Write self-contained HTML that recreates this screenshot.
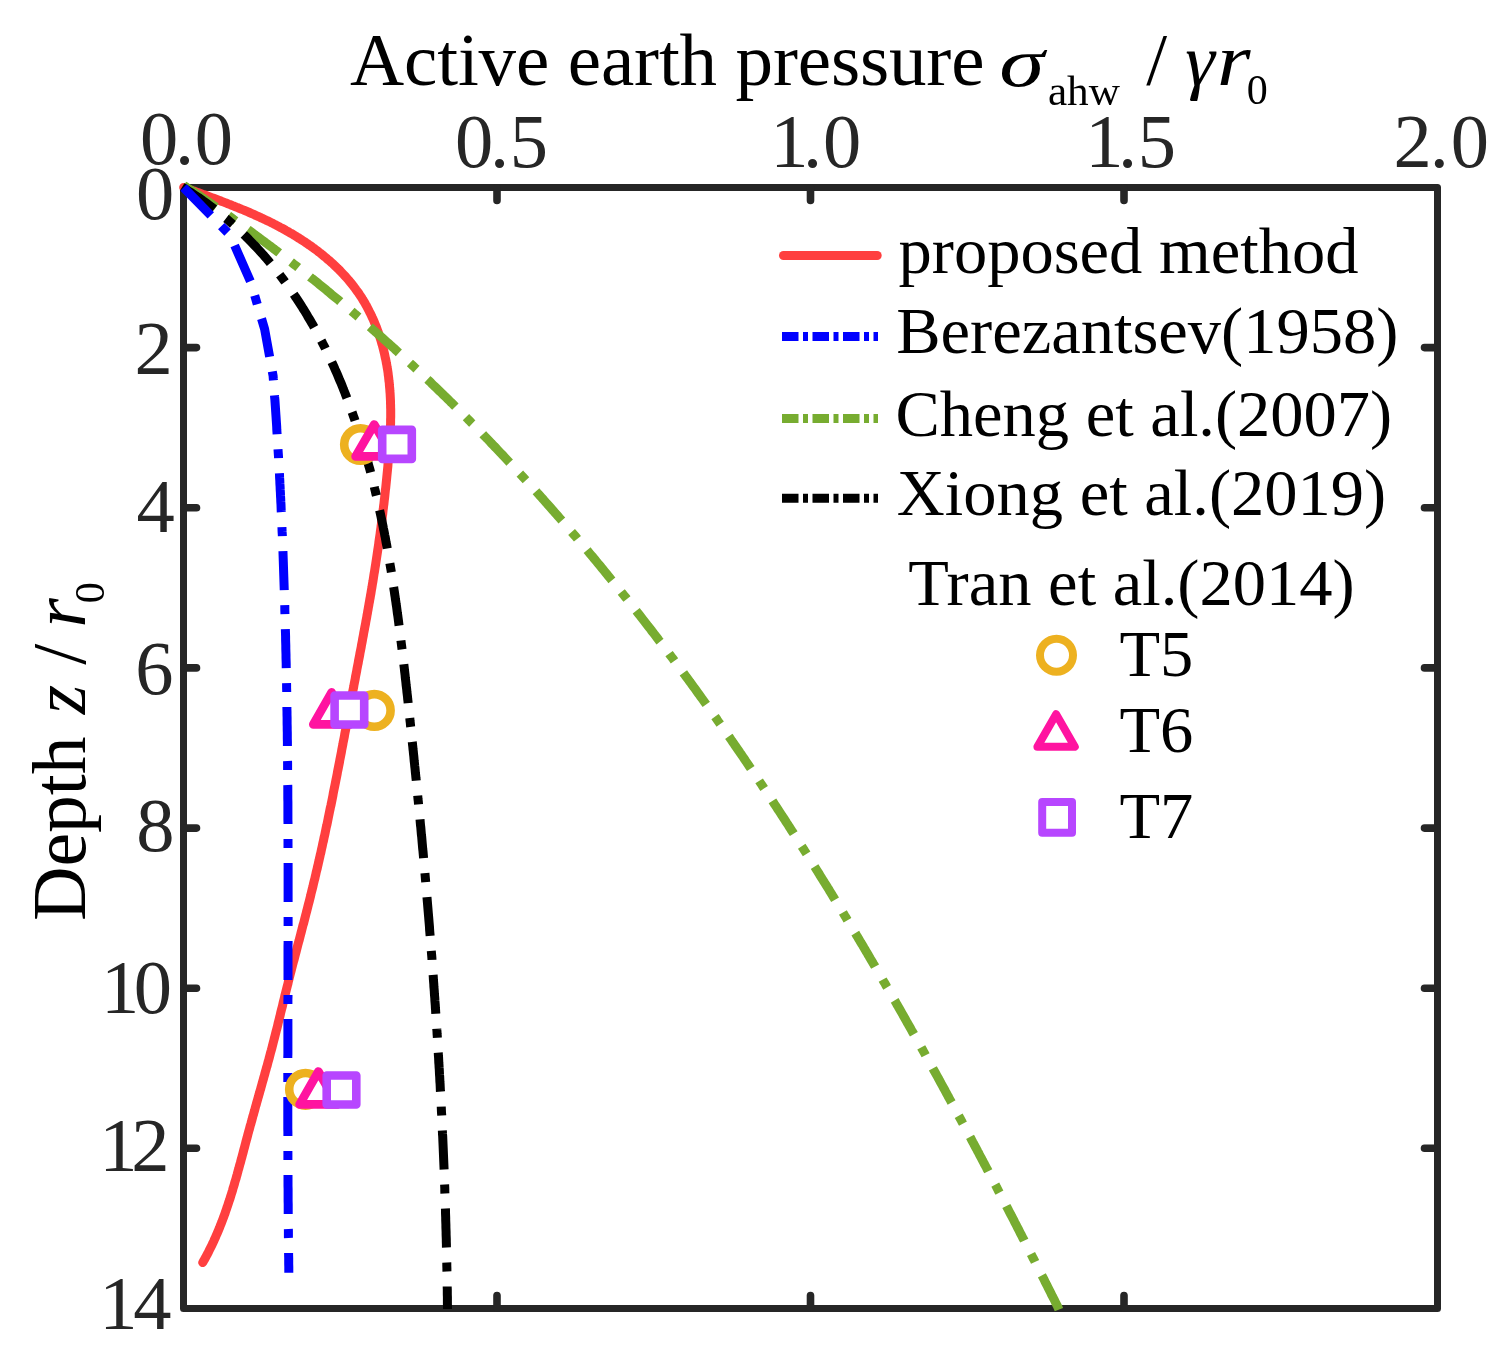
<!DOCTYPE html>
<html><head><meta charset="utf-8"><title>Active earth pressure vs depth</title>
<style>html,body{margin:0;padding:0;background:#fff;width:1504px;height:1364px;overflow:hidden}svg{display:block}</style>
</head><body>
<svg width="1504" height="1364" viewBox="0 0 1504 1364">
<rect width="1504" height="1364" fill="#fff"/>
<g font-family="'Liberation Serif', 'Times New Roman', serif" fill="#000">
<text x="350" y="84.8" font-size="75" textLength="634.5" lengthAdjust="spacing">Active earth pressure</text>
<text transform="translate(999.2,85.6) scale(1.22,0.94)" font-size="75" font-style="italic">σ</text>
<text x="1047.9" y="105" font-size="43.2">ahw</text>
<text x="1146.2" y="84.8" font-size="75">/</text>
<text x="1185.2" y="84.8" font-size="75" font-style="italic">γ</text>
<text transform="translate(1217,84.8) scale(1.15,1)" font-size="75" font-style="italic">r</text>
<text x="1246.7" y="104.4" font-size="42">0</text>
<g transform="translate(85,921.1) rotate(-90)" font-size="75.5">
<text x="0" y="0">Depth</text>
<text x="206.9" y="0" font-style="italic">z</text>
<text x="256.3" y="0">/</text>
<text x="293.6" y="0" font-style="italic">r</text>
<text x="317.5" y="18.7" font-size="43">0</text>
</g>
</g>
<g font-family="'Liberation Serif', 'Times New Roman', serif" font-size="76.5" fill="#262626">
<text x="140.1 175.0 194.8" y="164.3">0.0</text>
<text x="454.9 489.9 509.8" y="167.0">0.5</text>
<text x="770.2 802.9 822.9" y="167.0">1.0</text>
<text x="1085.2 1118.1 1137.8" y="167.0">1.5</text>
<text x="1393.4 1429.8 1450.7" y="167.2">2.0</text>
<text x="135.9" y="219.2">0</text>
<text x="134.6" y="374.0">2</text>
<text x="136.5" y="531.9">4</text>
<text x="135.2" y="693.6">6</text>
<text x="136.2" y="850.5">8</text>
<text x="101.1 133.8" y="1013.4">10</text>
<text x="99.3 131.3" y="1170.7">12</text>
<text x="99.3 133.2" y="1329.0">14</text>
</g>
<rect x="183.5" y="187.5" width="1254" height="1121" fill="none" stroke="#262626" stroke-width="7" stroke-linejoin="round"/>
<path d="M184,347.6h12.5 M1437,347.6h-12.5 M184,507.8h12.5 M1437,507.8h-12.5 M184,667.9h12.5 M1437,667.9h-12.5 M184,828.1h12.5 M1437,828.1h-12.5 M184,988.2h12.5 M1437,988.2h-12.5 M184,1148.3h12.5 M1437,1148.3h-12.5 M497.0,188v12.5 M497.0,1308v-12.5 M810.5,188v12.5 M810.5,1308v-12.5 M1124.0,188v12.5 M1124.0,1308v-12.5" stroke="#262626" stroke-width="7.6" stroke-linecap="round" fill="none"/>
<g fill="none" stroke-width="9">
<polyline points="183.7,187.4 185.5,188.1 187.4,188.7 189.3,189.4 191.1,190.1 193.0,190.8 194.9,191.4 196.8,192.1 198.6,192.8 200.5,193.5 202.4,194.2 204.3,194.8 206.2,195.5 208.1,196.2 209.9,196.9 211.8,197.6 213.7,198.3 215.6,199.0 217.5,199.7 219.4,200.4 221.2,201.2 223.1,201.9 225.0,202.6 226.9,203.3 228.8,204.1 230.7,204.8 232.5,205.6 234.4,206.3 236.3,207.1 238.2,207.8 240.0,208.6 241.9,209.4 243.8,210.1 245.6,210.9 247.5,211.7 249.4,212.5 251.2,213.3 253.1,214.1 254.9,215.0 256.8,215.8 258.6,216.6 260.4,217.5 262.3,218.3 264.1,219.2 265.9,220.1 267.7,220.9 269.6,221.8 271.4,222.7 273.2,223.6 275.0,224.6 276.8,225.5 278.6,226.4 280.3,227.4 282.1,228.3 283.9,229.3 285.7,230.3 287.4,231.3 289.2,232.3 290.9,233.3 292.7,234.3 294.4,235.4 296.1,236.4 297.8,237.5 299.5,238.5 301.2,239.6 302.9,240.7 304.6,241.8 306.3,243.0 308.0,244.1 309.6,245.3 311.3,246.4 312.9,247.6 314.6,248.8 316.2,250.0 317.8,251.2 319.4,252.5 321.0,253.7 322.6,255.0 324.1,256.3 325.7,257.5 327.2,258.9 328.8,260.2 330.3,261.5 331.8,262.9 333.3,264.2 334.7,265.6 336.2,267.0 337.6,268.4 339.1,269.8 340.5,271.2 341.9,272.7 343.3,274.2 344.6,275.6 346.0,277.1 347.3,278.6 348.6,280.1 349.9,281.7 351.2,283.2 352.4,284.8 353.6,286.4 354.9,288.0 356.0,289.6 357.2,291.2 358.4,292.8 359.5,294.5 360.6,296.1 361.7,297.8 362.7,299.5 363.8,301.2 364.8,302.9 365.8,304.7 366.8,306.4 367.7,308.2 368.6,310.0 369.5,311.8 370.4,313.5 371.3,315.4 372.1,317.2 373.0,319.0 373.8,320.8 374.5,322.7 375.3,324.5 376.1,326.4 376.8,328.3 377.5,330.2 378.2,332.1 378.8,334.0 379.5,335.9 380.1,337.8 380.7,339.7 381.3,341.7 381.8,343.6 382.4,345.5 382.9,347.5 383.4,349.4 383.9,351.4 384.4,353.4 384.8,355.3 385.2,357.3 385.7,359.3 386.1,361.3 386.4,363.2 386.8,365.2 387.1,367.2 387.5,369.2 387.8,371.2 388.1,373.2 388.3,375.2 388.6,377.2 388.8,379.2 389.0,381.2 389.3,383.2 389.4,385.2 389.6,387.2 389.8,389.2 389.9,391.2 390.1,393.2 390.2,395.2 390.3,397.2 390.4,399.2 390.5,401.2 390.5,403.3 390.6,405.3 390.6,407.3 390.7,409.3 390.7,411.3 390.7,413.3 390.7,415.4 390.7,417.4 390.6,419.4 390.6,421.4 390.6,423.4 390.5,425.5 390.4,427.5 390.4,429.5 390.3,431.5 390.2,433.5 390.1,435.6 390.0,437.6 389.9,439.6 389.8,441.6 389.6,443.7 389.5,445.7 389.4,447.7 389.2,449.7 389.1,451.7 388.9,453.8 388.7,455.8 388.6,457.8 388.4,459.8 388.2,461.8 388.0,463.9 387.9,465.9 387.7,467.9 387.5,469.9 387.3,471.9 387.1,473.9 386.9,475.9 386.7,478.0 386.5,480.0 386.3,482.0 386.1,484.0 385.9,486.0 385.7,488.0 385.4,490.0 385.2,492.0 385.0,494.0 384.8,496.0 384.6,498.0 384.3,500.0 384.1,502.0 383.9,504.0 383.6,506.0 383.4,508.0 383.1,510.0 382.9,512.0 382.7,514.0 382.4,516.0 382.2,518.0 381.9,520.0 381.6,522.0 381.4,524.0 381.1,526.0 380.9,528.0 380.6,530.0 380.3,531.9 380.1,533.9 379.8,535.9 379.5,537.9 379.2,539.9 378.9,541.9 378.7,543.9 378.4,545.9 378.1,547.9 377.8,549.8 377.5,551.8 377.2,553.8 376.9,555.8 376.6,557.8 376.3,559.8 376.0,561.8 375.7,563.8 375.4,565.7 375.1,567.7 374.8,569.7 374.5,571.7 374.1,573.7 373.8,575.7 373.5,577.6 373.2,579.6 372.9,581.6 372.5,583.6 372.2,585.6 371.9,587.6 371.5,589.6 371.2,591.5 370.9,593.5 370.5,595.5 370.2,597.5 369.8,599.5 369.5,601.5 369.1,603.4 368.8,605.4 368.4,607.4 368.1,609.4 367.7,611.4 367.4,613.4 367.0,615.3 366.7,617.3 366.3,619.3 365.9,621.3 365.6,623.3 365.2,625.3 364.8,627.3 364.5,629.2 364.1,631.2 363.7,633.2 363.4,635.2 363.0,637.2 362.6,639.2 362.3,641.1 361.9,643.1 361.5,645.1 361.2,647.1 360.8,649.1 360.4,651.1 360.0,653.0 359.7,655.0 359.3,657.0 358.9,659.0 358.5,661.0 358.2,663.0 357.8,664.9 357.4,666.9 357.0,668.9 356.7,670.9 356.3,672.9 355.9,674.9 355.5,676.8 355.2,678.8 354.8,680.8 354.4,682.8 354.0,684.8 353.7,686.8 353.3,688.7 352.9,690.7 352.5,692.7 352.2,694.7 351.8,696.7 351.4,698.6 351.1,700.6 350.7,702.6 350.3,704.6 349.9,706.6 349.6,708.6 349.2,710.5 348.8,712.5 348.5,714.5 348.1,716.5 347.7,718.5 347.3,720.5 347.0,722.4 346.6,724.4 346.2,726.4 345.9,728.4 345.5,730.4 345.1,732.3 344.7,734.3 344.4,736.3 344.0,738.3 343.6,740.3 343.2,742.2 342.9,744.2 342.5,746.2 342.1,748.2 341.7,750.2 341.4,752.1 341.0,754.1 340.6,756.1 340.2,758.1 339.8,760.1 339.5,762.0 339.1,764.0 338.7,766.0 338.3,768.0 337.9,770.0 337.5,771.9 337.2,773.9 336.8,775.9 336.4,777.9 336.0,779.8 335.6,781.8 335.2,783.8 334.8,785.8 334.4,787.7 334.0,789.7 333.6,791.7 333.2,793.7 332.9,795.6 332.5,797.6 332.1,799.6 331.7,801.6 331.3,803.5 330.9,805.5 330.4,807.5 330.0,809.5 329.6,811.4 329.2,813.4 328.8,815.4 328.4,817.3 328.0,819.3 327.6,821.3 327.2,823.3 326.8,825.2 326.3,827.2 325.9,829.2 325.5,831.1 325.1,833.1 324.7,835.1 324.2,837.0 323.8,839.0 323.4,841.0 322.9,842.9 322.5,844.9 322.1,846.9 321.6,848.8 321.2,850.8 320.8,852.8 320.3,854.7 319.9,856.7 319.4,858.7 319.0,860.6 318.5,862.6 318.1,864.6 317.6,866.5 317.2,868.5 316.7,870.4 316.2,872.4 315.8,874.4 315.3,876.3 314.9,878.3 314.4,880.2 313.9,882.2 313.4,884.2 313.0,886.1 312.5,888.1 312.0,890.0 311.5,892.0 311.0,894.0 310.6,895.9 310.1,897.9 309.6,899.8 309.1,901.8 308.6,903.7 308.1,905.7 307.6,907.6 307.1,909.6 306.6,911.5 306.1,913.5 305.6,915.4 305.1,917.4 304.6,919.4 304.1,921.3 303.6,923.3 303.0,925.2 302.5,927.2 302.0,929.1 301.5,931.1 301.0,933.0 300.5,935.0 300.0,936.9 299.5,938.9 299.0,940.8 298.4,942.8 297.9,944.7 297.4,946.7 296.9,948.6 296.4,950.6 295.9,952.5 295.4,954.5 294.9,956.4 294.4,958.4 293.9,960.3 293.3,962.3 292.8,964.2 292.3,966.2 291.8,968.1 291.3,970.1 290.8,972.0 290.3,974.0 289.8,976.0 289.3,977.9 288.8,979.9 288.3,981.8 287.9,983.8 287.4,985.7 286.9,987.7 286.4,989.6 285.9,991.6 285.4,993.6 284.9,995.5 284.5,997.5 284.0,999.4 283.5,1001.4 283.0,1003.3 282.6,1005.3 282.1,1007.3 281.6,1009.2 281.1,1011.2 280.6,1013.1 280.2,1015.1 279.7,1017.0 279.2,1019.0 278.7,1021.0 278.2,1022.9 277.8,1024.9 277.3,1026.8 276.8,1028.8 276.3,1030.7 275.8,1032.7 275.3,1034.6 274.8,1036.6 274.3,1038.5 273.8,1040.5 273.3,1042.4 272.8,1044.4 272.3,1046.3 271.8,1048.3 271.3,1050.2 270.7,1052.2 270.2,1054.1 269.7,1056.1 269.2,1058.0 268.7,1060.0 268.1,1061.9 267.6,1063.8 267.1,1065.8 266.5,1067.7 266.0,1069.7 265.4,1071.6 264.9,1073.5 264.4,1075.5 263.8,1077.4 263.3,1079.4 262.7,1081.3 262.2,1083.2 261.7,1085.2 261.1,1087.1 260.6,1089.1 260.0,1091.0 259.5,1092.9 258.9,1094.9 258.4,1096.8 257.8,1098.8 257.3,1100.7 256.7,1102.6 256.2,1104.6 255.6,1106.5 255.1,1108.5 254.6,1110.4 254.0,1112.3 253.5,1114.3 252.9,1116.2 252.4,1118.2 251.9,1120.1 251.3,1122.1 250.8,1124.0 250.2,1125.9 249.7,1127.9 249.2,1129.8 248.6,1131.8 248.1,1133.7 247.6,1135.7 247.1,1137.6 246.5,1139.6 246.0,1141.5 245.5,1143.5 245.0,1145.4 244.5,1147.4 243.9,1149.3 243.4,1151.3 242.9,1153.3 242.4,1155.2 241.9,1157.2 241.3,1159.1 240.8,1161.1 240.3,1163.0 239.7,1165.0 239.2,1166.9 238.7,1168.8 238.1,1170.8 237.6,1172.7 237.1,1174.7 236.5,1176.6 236.0,1178.6 235.4,1180.5 234.8,1182.4 234.3,1184.4 233.7,1186.3 233.1,1188.2 232.6,1190.2 232.0,1192.1 231.4,1194.0 230.8,1195.9 230.2,1197.9 229.6,1199.8 228.9,1201.7 228.3,1203.6 227.7,1205.5 227.0,1207.4 226.4,1209.3 225.7,1211.2 225.1,1213.1 224.4,1215.0 223.7,1216.9 223.0,1218.8 222.3,1220.6 221.6,1222.5 220.8,1224.4 220.1,1226.3 219.4,1228.1 218.6,1230.0 217.8,1231.8 217.0,1233.7 216.2,1235.5 215.4,1237.4 214.6,1239.2 213.8,1241.1 212.9,1242.9 212.1,1244.7 211.2,1246.5 210.3,1248.3 209.4,1250.1 208.5,1251.9 207.6,1253.7 206.6,1255.5 205.7,1257.3 204.7,1259.1 203.7,1260.8 202.7,1262.6" stroke="#FF3F3F" stroke-linecap="round" stroke-linejoin="round"/>
<polyline points="183.7,185.4 185.5,186.6 187.2,187.7 189.0,188.9 190.7,190.0 192.4,191.2 194.2,192.3 195.9,193.5 197.7,194.6 199.4,195.8 201.1,197.0 202.8,198.1 204.6,199.3 206.3,200.5 208.0,201.6 209.7,202.8 211.5,204.0 213.2,205.2 214.9,206.3 216.6,207.5 218.3,208.7 220.0,209.9 221.7,211.1 223.4,212.2 225.1,213.4 226.9,214.6 228.6,215.8 230.3,217.0 232.0,218.2 233.6,219.4 235.3,220.6 237.0,221.8 238.7,223.0 240.4,224.2 242.1,225.4 243.8,226.7 245.5,227.9 247.1,229.1 248.8,230.3 250.5,231.5 252.2,232.7 253.9,234.0 255.5,235.2 257.2,236.4 258.9,237.6 260.5,238.9 262.2,240.1 263.9,241.3 265.5,242.6 267.2,243.8 268.8,245.1 270.5,246.3 272.2,247.5 273.8,248.8 275.5,250.0 277.1,251.3 278.8,252.5 280.4,253.8 282.0,255.0 283.7,256.3 285.3,257.6 287.0,258.8 288.6,260.1 290.2,261.3 291.9,262.6 293.5,263.9 295.1,265.2 296.8,266.4 298.4,267.7 300.0,269.0 301.6,270.3 303.3,271.5 304.9,272.8 306.5,274.1 308.1,275.4 309.7,276.7 311.3,278.0 312.9,279.2 314.6,280.5 316.2,281.8 317.8,283.1 319.4,284.4 321.0,285.7 322.6,287.0 324.2,288.3 325.8,289.6 327.4,290.9 329.0,292.2 330.5,293.6 332.1,294.9 333.7,296.2 335.3,297.5 336.9,298.8 338.5,300.1 340.1,301.4 341.6,302.8 343.2,304.1 344.8,305.4 346.4,306.7 347.9,308.1 349.5,309.4 351.1,310.7 352.7,312.1 354.2,313.4 355.8,314.7 357.4,316.1 358.9,317.4 360.5,318.8 362.0,320.1 363.6,321.5 365.1,322.8 366.7,324.2 368.2,325.5 369.8,326.9 371.3,328.2 372.9,329.6 374.4,330.9 376.0,332.3 377.5,333.7 379.1,335.0 380.6,336.4 382.1,337.7 383.7,339.1 385.2,340.5 386.7,341.9 388.3,343.2 389.8,344.6 391.3,346.0 392.9,347.4 394.4,348.7 395.9,350.1 397.4,351.5 398.9,352.9 400.5,354.3 402.0,355.7 403.5,357.1 405.0,358.4 406.5,359.8 408.0,361.2 409.5,362.6 411.0,364.0 412.5,365.4 414.0,366.8 415.5,368.2 417.0,369.6 418.5,371.0 420.0,372.4 421.5,373.9 423.0,375.3 424.5,376.7 426.0,378.1 427.5,379.5 429.0,380.9 430.5,382.3 431.9,383.8 433.4,385.2 434.9,386.6 436.4,388.0 437.9,389.5 439.3,390.9 440.8,392.3 442.3,393.7 443.8,395.2 445.2,396.6 446.7,398.0 448.2,399.5 449.6,400.9 451.1,402.4 452.6,403.8 454.0,405.2 455.5,406.7 456.9,408.1 458.4,409.6 459.8,411.0 461.3,412.5 462.7,413.9 464.2,415.4 465.6,416.8 467.1,418.3 468.5,419.8 470.0,421.2 471.4,422.7 472.9,424.1 474.3,425.6 475.7,427.1 477.2,428.5 478.6,430.0 480.0,431.5 481.5,432.9 482.9,434.4 484.3,435.9 485.8,437.4 487.2,438.8 488.6,440.3 490.0,441.8 491.4,443.3 492.9,444.8 494.3,446.3 495.7,447.7 497.1,449.2 498.5,450.7 499.9,452.2 501.3,453.7 502.8,455.2 504.2,456.7 505.6,458.2 507.0,459.7 508.4,461.2 509.8,462.7 511.2,464.2 512.6,465.7 514.0,467.2 515.4,468.7 516.8,470.2 518.2,471.7 519.5,473.2 520.9,474.7 522.3,476.2 523.7,477.8 525.1,479.3 526.5,480.8 527.9,482.3 529.2,483.8 530.6,485.4 532.0,486.9 533.4,488.4 534.8,489.9 536.1,491.4 537.5,493.0 538.9,494.5 540.2,496.0 541.6,497.6 543.0,499.1 544.3,500.6 545.7,502.2 547.1,503.7 548.4,505.2 549.8,506.8 551.1,508.3 552.5,509.9 553.9,511.4 555.2,513.0 556.6,514.5 557.9,516.0 559.3,517.6 560.6,519.1 562.0,520.7 563.3,522.3 564.6,523.8 566.0,525.4 567.3,526.9 568.7,528.5 570.0,530.0 571.3,531.6 572.7,533.2 574.0,534.7 575.4,536.3 576.7,537.8 578.0,539.4 579.3,541.0 580.7,542.5 582.0,544.1 583.3,545.7 584.6,547.3 586.0,548.8 587.3,550.4 588.6,552.0 589.9,553.6 591.2,555.1 592.6,556.7 593.9,558.3 595.2,559.9 596.5,561.5 597.8,563.1 599.1,564.6 600.4,566.2 601.7,567.8 603.0,569.4 604.3,571.0 605.6,572.6 606.9,574.2 608.2,575.8 609.5,577.4 610.8,579.0 612.1,580.6 613.4,582.2 614.7,583.8 616.0,585.4 617.3,587.0 618.6,588.6 619.9,590.2 621.1,591.8 622.4,593.4 623.7,595.0 625.0,596.6 626.3,598.2 627.6,599.8 628.8,601.4 630.1,603.1 631.4,604.7 632.7,606.3 633.9,607.9 635.2,609.5 636.5,611.1 637.7,612.8 639.0,614.4 640.3,616.0 641.5,617.6 642.8,619.3 644.1,620.9 645.3,622.5 646.6,624.1 647.8,625.8 649.1,627.4 650.4,629.0 651.6,630.7 652.9,632.3 654.1,633.9 655.4,635.6 656.6,637.2 657.9,638.8 659.1,640.5 660.4,642.1 661.6,643.8 662.9,645.4 664.1,647.0 665.3,648.7 666.6,650.3 667.8,652.0 669.1,653.6 670.3,655.3 671.5,656.9 672.8,658.6 674.0,660.2 675.2,661.9 676.5,663.5 677.7,665.2 678.9,666.8 680.1,668.5 681.4,670.2 682.6,671.8 683.8,673.5 685.0,675.1 686.2,676.8 687.5,678.5 688.7,680.1 689.9,681.8 691.1,683.4 692.3,685.1 693.5,686.8 694.8,688.4 696.0,690.1 697.2,691.8 698.4,693.5 699.6,695.1 700.8,696.8 702.0,698.5 703.2,700.2 704.4,701.8 705.6,703.5 706.8,705.2 708.0,706.9 709.2,708.5 710.4,710.2 711.6,711.9 712.8,713.6 714.0,715.3 715.2,716.9 716.4,718.6 717.5,720.3 718.7,722.0 719.9,723.7 721.1,725.4 722.3,727.1 723.5,728.8 724.7,730.5 725.8,732.1 727.0,733.8 728.2,735.5 729.4,737.2 730.6,738.9 731.7,740.6 732.9,742.3 734.1,744.0 735.2,745.7 736.4,747.4 737.6,749.1 738.8,750.8 739.9,752.5 741.1,754.2 742.3,755.9 743.4,757.6 744.6,759.3 745.7,761.0 746.9,762.7 748.1,764.5 749.2,766.2 750.4,767.9 751.5,769.6 752.7,771.3 753.8,773.0 755.0,774.7 756.2,776.4 757.3,778.2 758.5,779.9 759.6,781.6 760.7,783.3 761.9,785.0 763.0,786.7 764.2,788.5 765.3,790.2 766.5,791.9 767.6,793.6 768.7,795.3 769.9,797.1 771.0,798.8 772.2,800.5 773.3,802.2 774.4,804.0 775.6,805.7 776.7,807.4 777.8,809.2 779.0,810.9 780.1,812.6 781.2,814.3 782.3,816.1 783.5,817.8 784.6,819.5 785.7,821.3 786.8,823.0 788.0,824.7 789.1,826.5 790.2,828.2 791.3,830.0 792.4,831.7 793.6,833.4 794.7,835.2 795.8,836.9 796.9,838.6 798.0,840.4 799.1,842.1 800.2,843.9 801.3,845.6 802.5,847.4 803.6,849.1 804.7,850.9 805.8,852.6 806.9,854.3 808.0,856.1 809.1,857.8 810.2,859.6 811.3,861.3 812.4,863.1 813.5,864.8 814.6,866.6 815.7,868.3 816.8,870.1 817.9,871.8 819.0,873.6 820.0,875.4 821.1,877.1 822.2,878.9 823.3,880.6 824.4,882.4 825.5,884.1 826.6,885.9 827.7,887.7 828.8,889.4 829.8,891.2 830.9,892.9 832.0,894.7 833.1,896.5 834.2,898.2 835.2,900.0 836.3,901.7 837.4,903.5 838.5,905.3 839.5,907.0 840.6,908.8 841.7,910.6 842.8,912.3 843.8,914.1 844.9,915.9 846.0,917.6 847.0,919.4 848.1,921.2 849.2,923.0 850.2,924.7 851.3,926.5 852.4,928.3 853.4,930.0 854.5,931.8 855.6,933.6 856.6,935.4 857.7,937.1 858.7,938.9 859.8,940.7 860.8,942.5 861.9,944.2 863.0,946.0 864.0,947.8 865.1,949.6 866.1,951.4 867.2,953.1 868.2,954.9 869.3,956.7 870.3,958.5 871.4,960.3 872.4,962.0 873.4,963.8 874.5,965.6 875.5,967.4 876.6,969.2 877.6,970.9 878.7,972.7 879.7,974.5 880.7,976.3 881.8,978.1 882.8,979.9 883.8,981.7 884.9,983.4 885.9,985.2 886.9,987.0 888.0,988.8 889.0,990.6 890.0,992.4 891.1,994.2 892.1,996.0 893.1,997.8 894.2,999.6 895.2,1001.3 896.2,1003.1 897.2,1004.9 898.3,1006.7 899.3,1008.5 900.3,1010.3 901.3,1012.1 902.4,1013.9 903.4,1015.7 904.4,1017.5 905.4,1019.3 906.4,1021.1 907.4,1022.9 908.5,1024.7 909.5,1026.5 910.5,1028.3 911.5,1030.1 912.5,1031.9 913.5,1033.6 914.5,1035.4 915.5,1037.2 916.6,1039.0 917.6,1040.8 918.6,1042.6 919.6,1044.4 920.6,1046.2 921.6,1048.0 922.6,1049.8 923.6,1051.6 924.6,1053.4 925.6,1055.3 926.6,1057.1 927.6,1058.9 928.6,1060.7 929.6,1062.5 930.6,1064.3 931.6,1066.1 932.6,1067.9 933.6,1069.7 934.6,1071.5 935.6,1073.3 936.6,1075.1 937.6,1076.9 938.6,1078.7 939.5,1080.5 940.5,1082.3 941.5,1084.1 942.5,1085.9 943.5,1087.7 944.5,1089.5 945.5,1091.4 946.5,1093.2 947.5,1095.0 948.4,1096.8 949.4,1098.6 950.4,1100.4 951.4,1102.2 952.4,1104.0 953.3,1105.8 954.3,1107.6 955.3,1109.4 956.3,1111.2 957.3,1113.1 958.2,1114.9 959.2,1116.7 960.2,1118.5 961.2,1120.3 962.1,1122.1 963.1,1123.9 964.1,1125.7 965.1,1127.5 966.0,1129.4 967.0,1131.2 968.0,1133.0 968.9,1134.8 969.9,1136.6 970.9,1138.4 971.8,1140.2 972.8,1142.1 973.8,1143.9 974.7,1145.7 975.7,1147.5 976.7,1149.3 977.6,1151.1 978.6,1152.9 979.5,1154.8 980.5,1156.6 981.5,1158.4 982.4,1160.2 983.4,1162.0 984.3,1163.8 985.3,1165.6 986.3,1167.5 987.2,1169.3 988.2,1171.1 989.1,1172.9 990.1,1174.7 991.0,1176.5 992.0,1178.3 992.9,1180.2 993.9,1182.0 994.8,1183.8 995.8,1185.6 996.7,1187.4 997.7,1189.2 998.6,1191.1 999.6,1192.9 1000.5,1194.7 1001.5,1196.5 1002.4,1198.3 1003.4,1200.1 1004.3,1202.0 1005.2,1203.8 1006.2,1205.6 1007.1,1207.4 1008.1,1209.2 1009.0,1211.1 1009.9,1212.9 1010.9,1214.7 1011.8,1216.5 1012.8,1218.3 1013.7,1220.1 1014.6,1222.0 1015.6,1223.8 1016.5,1225.6 1017.4,1227.4 1018.4,1229.2 1019.3,1231.0 1020.2,1232.9 1021.2,1234.7 1022.1,1236.5 1023.0,1238.3 1024.0,1240.1 1024.9,1242.0 1025.8,1243.8 1026.8,1245.6 1027.7,1247.4 1028.6,1249.2 1029.5,1251.0 1030.5,1252.9 1031.4,1254.7 1032.3,1256.5 1033.2,1258.3 1034.2,1260.1 1035.1,1261.9 1036.0,1263.8 1036.9,1265.6 1037.9,1267.4 1038.8,1269.2 1039.7,1271.0 1040.6,1272.9 1041.5,1274.7 1042.5,1276.5 1043.4,1278.3 1044.3,1280.1 1045.2,1281.9 1046.1,1283.8 1047.1,1285.6 1048.0,1287.4 1048.9,1289.2 1049.8,1291.0 1050.7,1292.8 1051.6,1294.7 1052.5,1296.5 1053.5,1298.3 1054.4,1300.1 1055.3,1301.9 1056.2,1303.7 1057.1,1305.5 1058.0,1307.4 1058.9,1309.6" stroke="#77AC30" stroke-dasharray="39 15 9 15"/>
<polyline points="182.1,187.0 184.3,188.3 186.4,189.7 188.6,191.0 190.7,192.3 192.8,193.7 194.9,195.1 196.9,196.5 199.0,197.8 201.0,199.3 203.0,200.7 205.1,202.1 207.1,203.6 209.0,205.0 211.0,206.5 213.0,208.0 214.9,209.5 216.8,211.0 218.8,212.5 220.7,214.0 222.5,215.5 224.4,217.1 226.3,218.6 228.1,220.2 230.0,221.8 231.8,223.4 233.6,225.0 235.4,226.6 237.1,228.2 238.9,229.9 240.7,231.5 242.4,233.1 244.1,234.8 245.9,236.5 247.6,238.2 249.2,239.9 250.9,241.6 252.6,243.3 254.2,245.0 255.9,246.7 257.5,248.5 259.1,250.2 260.7,252.0 262.3,253.8 263.9,255.5 265.4,257.3 267.0,259.1 268.5,260.9 270.1,262.8 271.6,264.6 273.1,266.4 274.6,268.3 276.0,270.1 277.5,272.0 279.0,273.8 280.4,275.7 281.8,277.6 283.3,279.5 284.7,281.4 286.1,283.3 287.5,285.2 288.8,287.1 290.2,289.1 291.6,291.0 292.9,293.0 294.2,294.9 295.5,296.9 296.8,298.8 298.1,300.8 299.4,302.8 300.7,304.8 302.0,306.8 303.2,308.8 304.5,310.8 305.7,312.8 306.9,314.8 308.1,316.9 309.3,318.9 310.5,320.9 311.7,323.0 312.9,325.0 314.0,327.1 315.2,329.2 316.3,331.3 317.4,333.3 318.6,335.4 319.7,337.5 320.8,339.6 321.9,341.7 322.9,343.8 324.0,345.9 325.1,348.0 326.1,350.2 327.2,352.3 328.2,354.4 329.2,356.6 330.2,358.7 331.2,360.9 332.2,363.0 333.2,365.2 334.2,367.3 335.1,369.5 336.1,371.7 337.1,373.8 338.0,376.0 338.9,378.2 339.8,380.4 340.8,382.6 341.7,384.8 342.6,387.0 343.4,389.2 344.3,391.4 345.2,393.6 346.0,395.8 346.9,398.0 347.7,400.2 348.6,402.5 349.4,404.7 350.2,406.9 351.0,409.2 351.8,411.4 352.6,413.6 353.4,415.9 354.2,418.1 355.0,420.4 355.7,422.6 356.5,424.9 357.2,427.1 358.0,429.4 358.7,431.6 359.4,433.9 360.2,436.1 360.9,438.4 361.6,440.7 362.3,442.9 362.9,445.2 363.6,447.5 364.3,449.8 365.0,452.0 365.6,454.3 366.3,456.6 366.9,458.9 367.6,461.2 368.2,463.5 368.8,465.8 369.5,468.1 370.1,470.3 370.7,472.6 371.3,474.9 371.9,477.2 372.5,479.5 373.0,481.9 373.6,484.2 374.2,486.5 374.7,488.8 375.3,491.1 375.8,493.4 376.4,495.7 376.9,498.0 377.5,500.4 378.0,502.7 378.5,505.0 379.0,507.3 379.5,509.7 380.0,512.0 380.5,514.3 381.0,516.6 381.5,519.0 382.0,521.3 382.5,523.6 383.0,526.0 383.4,528.3 383.9,530.7 384.4,533.0 384.8,535.3 385.3,537.7 385.7,540.0 386.1,542.4 386.6,544.7 387.0,547.1 387.4,549.4 387.9,551.8 388.3,554.1 388.7,556.5 389.1,558.8 389.5,561.2 389.9,563.6 390.3,565.9 390.7,568.3 391.1,570.6 391.5,573.0 391.8,575.4 392.2,577.7 392.6,580.1 393.0,582.5 393.3,584.8 393.7,587.2 394.0,589.6 394.4,591.9 394.7,594.3 395.1,596.7 395.4,599.0 395.8,601.4 396.1,603.8 396.5,606.2 396.8,608.5 397.1,610.9 397.4,613.3 397.8,615.7 398.1,618.0 398.4,620.4 398.7,622.8 399.0,625.2 399.3,627.6 399.6,629.9 399.9,632.3 400.2,634.7 400.5,637.1 400.8,639.5 401.1,641.8 401.4,644.2 401.7,646.6 402.0,649.0 402.3,651.4 402.6,653.8 402.9,656.1 403.2,658.5 403.4,660.9 403.7,663.3 404.0,665.7 404.3,668.1 404.5,670.4 404.8,672.8 405.1,675.2 405.3,677.6 405.6,680.0 405.9,682.4 406.1,684.8 406.4,687.1 406.7,689.5 406.9,691.9 407.2,694.3 407.5,696.7 407.7,699.1 408.0,701.4 408.2,703.8 408.5,706.2 408.7,708.6 409.0,711.0 409.3,713.4 409.5,715.7 409.8,718.1 410.0,720.5 410.3,722.9 410.5,725.3 410.8,727.7 411.0,730.0 411.3,732.4 411.5,734.8 411.8,737.2 412.0,739.6 412.3,741.9 412.5,744.3 412.8,746.7 413.0,749.1 413.3,751.5 413.5,753.8 413.8,756.2 414.0,758.6 414.2,761.0 414.5,763.4 414.7,765.7 415.0,768.1 415.2,770.5 415.4,772.9 415.7,775.3 415.9,777.6 416.2,780.0 416.4,782.4 416.6,784.8 416.9,787.1 417.1,789.5 417.3,791.9 417.6,794.3 417.8,796.6 418.0,799.0 418.3,801.4 418.5,803.8 418.7,806.2 419.0,808.5 419.2,810.9 419.4,813.3 419.6,815.7 419.9,818.0 420.1,820.4 420.3,822.8 420.5,825.2 420.8,827.5 421.0,829.9 421.2,832.3 421.4,834.7 421.7,837.0 421.9,839.4 422.1,841.8 422.3,844.2 422.5,846.5 422.7,848.9 423.0,851.3 423.2,853.6 423.4,856.0 423.6,858.4 423.8,860.8 424.0,863.1 424.2,865.5 424.4,867.9 424.7,870.3 424.9,872.6 425.1,875.0 425.3,877.4 425.5,879.8 425.7,882.1 425.9,884.5 426.1,886.9 426.3,889.3 426.5,891.6 426.7,894.0 426.9,896.4 427.1,898.7 427.3,901.1 427.5,903.5 427.7,905.9 427.9,908.2 428.1,910.6 428.3,913.0 428.5,915.4 428.7,917.7 428.9,920.1 429.1,922.5 429.3,924.8 429.5,927.2 429.6,929.6 429.8,932.0 430.0,934.3 430.2,936.7 430.4,939.1 430.6,941.5 430.8,943.8 430.9,946.2 431.1,948.6 431.3,951.0 431.5,953.3 431.7,955.7 431.9,958.1 432.0,960.4 432.2,962.8 432.4,965.2 432.6,967.6 432.7,969.9 432.9,972.3 433.1,974.7 433.3,977.1 433.4,979.4 433.6,981.8 433.8,984.2 433.9,986.6 434.1,988.9 434.3,991.3 434.4,993.7 434.6,996.1 434.8,998.4 434.9,1000.8 435.1,1003.2 435.3,1005.6 435.4,1007.9 435.6,1010.3 435.7,1012.7 435.9,1015.1 436.0,1017.4 436.2,1019.8 436.4,1022.2 436.5,1024.6 436.7,1026.9 436.8,1029.3 437.0,1031.7 437.1,1034.1 437.3,1036.4 437.4,1038.8 437.6,1041.2 437.7,1043.6 437.9,1045.9 438.0,1048.3 438.1,1050.7 438.3,1053.1 438.4,1055.5 438.6,1057.8 438.7,1060.2 438.8,1062.6 439.0,1065.0 439.1,1067.3 439.3,1069.7 439.4,1072.1 439.5,1074.5 439.7,1076.9 439.8,1079.2 439.9,1081.6 440.1,1084.0 440.2,1086.4 440.3,1088.8 440.4,1091.1 440.6,1093.5 440.7,1095.9 440.8,1098.3 440.9,1100.7 441.1,1103.0 441.2,1105.4 441.3,1107.8 441.4,1110.2 441.5,1112.6 441.7,1114.9 441.8,1117.3 441.9,1119.7 442.0,1122.1 442.1,1124.5 442.2,1126.9 442.3,1129.2 442.4,1131.6 442.5,1134.0 442.7,1136.4 442.8,1138.8 442.9,1141.2 443.0,1143.6 443.1,1145.9 443.2,1148.3 443.3,1150.7 443.4,1153.1 443.5,1155.5 443.6,1157.9 443.7,1160.3 443.8,1162.6 443.9,1165.0 444.0,1167.4 444.1,1169.8 444.1,1172.2 444.2,1174.6 444.3,1177.0 444.4,1179.4 444.5,1181.7 444.6,1184.1 444.7,1186.5 444.8,1188.9 444.8,1191.3 444.9,1193.7 445.0,1196.1 445.1,1198.5 445.2,1200.9 445.2,1203.3 445.3,1205.7 445.4,1208.0 445.5,1210.4 445.5,1212.8 445.6,1215.2 445.7,1217.6 445.7,1220.0 445.8,1222.4 445.9,1224.8 445.9,1227.2 446.0,1229.6 446.1,1232.0 446.1,1234.4 446.2,1236.8 446.3,1239.2 446.3,1241.6 446.4,1244.0 446.4,1246.4 446.5,1248.8 446.5,1251.2 446.6,1253.6 446.6,1256.0 446.7,1258.4 446.7,1260.8 446.8,1263.2 446.8,1265.6 446.9,1268.0 446.9,1270.4 447.0,1272.8 447.0,1275.2 447.1,1277.6 447.1,1280.0 447.1,1282.4 447.2,1284.8 447.2,1287.2 447.3,1289.6 447.3,1292.0 447.3,1294.4 447.4,1296.8 447.4,1299.2 447.4,1301.6 447.4,1304.0 447.5,1306.5 447.5,1308.9" stroke="#000000" stroke-dasharray="39 15 9 15"/>
<polyline points="183.5,187.5 230.0,235.0 250.7,282.0 264.6,329.0 273.1,375.9 273.3,378.9 273.6,381.9 273.8,384.9 274.0,387.9 274.2,390.9 274.4,393.9 274.6,396.9 274.9,399.9 275.1,402.9 275.3,405.8 275.5,408.8 275.7,411.8 275.9,414.8 276.1,417.8 276.3,420.8 276.5,423.8 276.7,426.8 276.8,429.8 277.0,432.8 277.2,435.8 277.4,438.8 277.6,441.8 277.8,444.8 277.9,447.8 278.1,450.8 278.3,453.8 278.5,456.8 278.6,459.7 278.8,462.7 279.0,465.7 279.1,468.7 279.3,471.7 279.5,474.7 279.6,477.7 279.8,480.7 279.9,483.7 280.1,486.7 280.2,489.7 280.4,492.7 280.5,495.7 280.7,498.7 280.8,501.7 281.0,504.7 281.1,507.7 281.2,510.7 281.4,513.7 281.5,516.7 281.6,519.7 281.8,522.7 281.9,525.7 282.0,528.7 282.1,531.7 282.3,534.7 282.4,537.7 282.5,540.7 282.6,543.6 282.7,546.6 282.9,549.6 283.0,552.6 283.1,555.6 283.2,558.6 283.3,561.6 283.4,564.6 283.5,567.6 283.6,570.6 283.7,573.6 283.8,576.6 283.9,579.6 284.0,582.6 284.1,585.6 284.2,588.6 284.3,591.6 284.4,594.6 284.5,597.6 284.6,600.6 284.7,603.6 284.8,606.6 284.8,609.6 284.9,612.6 285.0,615.6 285.1,618.6 285.2,621.6 285.3,624.6 285.3,627.6 285.4,630.6 285.5,633.6 285.6,636.6 285.6,639.6 285.7,642.6 285.8,645.6 285.8,648.6 285.9,651.6 286.0,654.6 286.0,657.6 286.1,660.6 286.2,663.6 286.2,666.6 286.3,669.6 286.3,672.6 286.4,675.6 286.4,678.6 286.5,681.6 286.6,684.6 286.6,687.6 286.7,690.6 286.7,693.6 286.8,696.6 286.8,699.6 286.8,702.6 286.9,705.6 286.9,708.6 287.0,711.6 287.0,714.6 287.1,717.6 287.1,720.6 287.1,723.6 287.2,726.6 287.2,729.6 287.3,732.6 287.3,735.6 287.3,738.6 287.4,741.6 287.4,744.6 287.4,747.6 287.5,750.6 287.5,753.6 287.5,756.6 287.5,759.6 287.6,762.6 287.6,765.6 287.6,768.6 287.6,771.6 287.7,774.6 287.7,777.6 287.7,780.6 287.7,783.6 287.8,786.6 287.8,789.6 287.8,792.6 287.8,795.6 287.8,798.6 287.9,801.6 287.9,804.6 287.9,807.6 287.9,810.6 287.9,813.6 287.9,816.6 287.9,819.6 288.0,822.6 288.0,825.6 288.0,828.6 288.0,831.6 288.0,834.6 288.0,837.6 288.0,840.6 288.0,843.6 288.0,846.6 288.0,849.6 288.0,852.6 288.1,855.6 288.1,858.6 288.1,861.6 288.1,864.6 288.1,867.6 288.1,870.6 288.1,873.7 288.1,876.7 288.1,879.7 288.1,882.7 288.1,885.7 288.1,888.7 288.1,891.7 288.1,894.7 288.1,897.7 288.1,900.7 288.1,903.7 288.1,906.7 288.1,909.7 288.1,912.7 288.1,915.7 288.1,918.7 288.1,921.7 288.1,924.7 288.1,927.7 288.1,930.7 288.1,933.7 288.1,936.7 288.1,939.7 288.1,942.7 288.0,945.7 288.0,948.7 288.0,951.7 288.0,954.7 288.0,957.7 288.0,960.7 288.0,963.7 288.0,966.7 288.0,969.7 288.0,972.7 288.0,975.7 288.0,978.7 288.0,981.7 288.0,984.7 288.0,987.7 288.0,990.7 288.0,993.7 288.0,996.7 287.9,999.7 287.9,1002.7 287.9,1005.7 287.9,1008.7 287.9,1011.7 287.9,1014.7 287.9,1017.7 287.9,1020.7 287.9,1023.7 287.9,1026.7 287.9,1029.7 287.9,1032.7 287.9,1035.7 287.9,1038.7 287.9,1041.7 287.9,1044.7 287.9,1047.7 287.9,1050.8 287.9,1053.8 287.8,1056.8 287.8,1059.8 287.8,1062.8 287.8,1065.8 287.8,1068.8 287.8,1071.8 287.8,1074.8 287.8,1077.8 287.8,1080.8 287.8,1083.8 287.8,1086.8 287.8,1089.8 287.8,1092.8 287.8,1095.8 287.8,1098.8 287.8,1101.8 287.8,1104.8 287.8,1107.8 287.8,1110.8 287.8,1113.8 287.8,1116.8 287.8,1119.8 287.8,1122.8 287.8,1125.8 287.8,1128.8 287.9,1131.8 287.9,1134.8 287.9,1137.8 287.9,1140.8 287.9,1143.8 287.9,1146.8 287.9,1149.8 287.9,1152.8 287.9,1155.8 287.9,1158.8 287.9,1161.8 287.9,1164.8 288.0,1167.8 288.0,1170.8 288.0,1173.8 288.0,1176.8 288.0,1179.8 288.0,1182.8 288.0,1185.8 288.1,1188.8 288.1,1191.8 288.1,1194.8 288.1,1197.8 288.1,1200.8 288.2,1203.8 288.2,1206.8 288.2,1209.8 288.2,1212.8 288.2,1215.8 288.3,1218.8 288.3,1221.8 288.3,1224.8 288.3,1227.8 288.4,1230.8 288.4,1233.8 288.4,1236.8 288.5,1239.8 288.5,1242.8 288.5,1245.8 288.5,1248.8 288.6,1251.8 288.6,1254.8 288.7,1257.8 288.7,1260.8 288.7,1263.8 288.8,1266.8 288.8,1269.8 288.8,1272.8" stroke="#0000FF" stroke-dasharray="39 15 9 15"/>
</g>
<circle cx="360.5" cy="444.5" r="16.3" fill="#fff" stroke="#EDB120" stroke-width="8.6"/>
<path d="M374.2,424.5 L392.8,456.4 L355.6,456.4 Z" fill="#fff" stroke="#FF14A0" stroke-width="8.6" stroke-linejoin="round"/>
<rect x="382.2" y="429.9" width="29.6" height="29.0" fill="#fff" stroke="#B746FF" stroke-width="8.6" stroke-linejoin="round"/>
<circle cx="374.3" cy="710.4" r="16.3" fill="#fff" stroke="#EDB120" stroke-width="8.6"/>
<path d="M331.6,692.3 L349.9,724.4 L313.3,724.4 Z" fill="#fff" stroke="#FF14A0" stroke-width="8.6" stroke-linejoin="round"/>
<rect x="334.6" y="695.5" width="29.6" height="29.0" fill="#fff" stroke="#B746FF" stroke-width="8.6" stroke-linejoin="round"/>
<circle cx="305.5" cy="1089.3" r="16.3" fill="#fff" stroke="#EDB120" stroke-width="8.6"/>
<path d="M318.4,1071.5 L337.2,1104.4 L299.6,1104.4 Z" fill="#fff" stroke="#FF14A0" stroke-width="8.6" stroke-linejoin="round"/>
<rect x="326.7" y="1075.5" width="29.6" height="29.0" fill="#fff" stroke="#B746FF" stroke-width="8.6" stroke-linejoin="round"/>
<g fill="none" stroke-width="9">
<line x1="783.5" y1="255.5" x2="877.2" y2="255.5" stroke="#FF3F3F" stroke-linecap="round"/>
<line x1="782" y1="336.5" x2="878" y2="336.5" stroke="#0000FF" stroke-dasharray="16.5 4.5 5 4.5"/>
<line x1="782" y1="418.4" x2="878" y2="418.4" stroke="#77AC30" stroke-dasharray="16.5 4.5 5 4.5"/>
<line x1="782" y1="498.3" x2="878" y2="498.3" stroke="#000000" stroke-dasharray="16.5 4.5 5 4.5"/>
</g>
<g font-family="'Liberation Serif', 'Times New Roman', serif" font-size="66.5" fill="#000">
<text x="898.5" y="272.8">proposed method</text>
<text x="896.2" y="352.8">Berezantsev(1958)</text>
<text x="895.5" y="436.3">Cheng et al.(2007)</text>
<text x="896.8" y="514.6">Xiong et al.(2019)</text>
<text x="908.3" y="605.4">Tran et al.(2014)</text>
<text x="1119.5" y="675.6">T5</text>
<text x="1119.5" y="752.4">T6</text>
<text x="1119.5" y="838.4">T7</text>
</g>
<circle cx="1056.5" cy="655.2" r="16.5" fill="#fff" stroke="#EDB120" stroke-width="8"/>
<path d="M1056.1,714.2 L1074.8,746.7 L1037.4,746.7 Z" fill="#fff" stroke="#FF14A0" stroke-width="8" stroke-linejoin="round"/>
<rect x="1042.2" y="801.9" width="29.8" height="30.8" fill="#fff" stroke="#B746FF" stroke-width="8" stroke-linejoin="round"/>
</svg>
</body></html>
